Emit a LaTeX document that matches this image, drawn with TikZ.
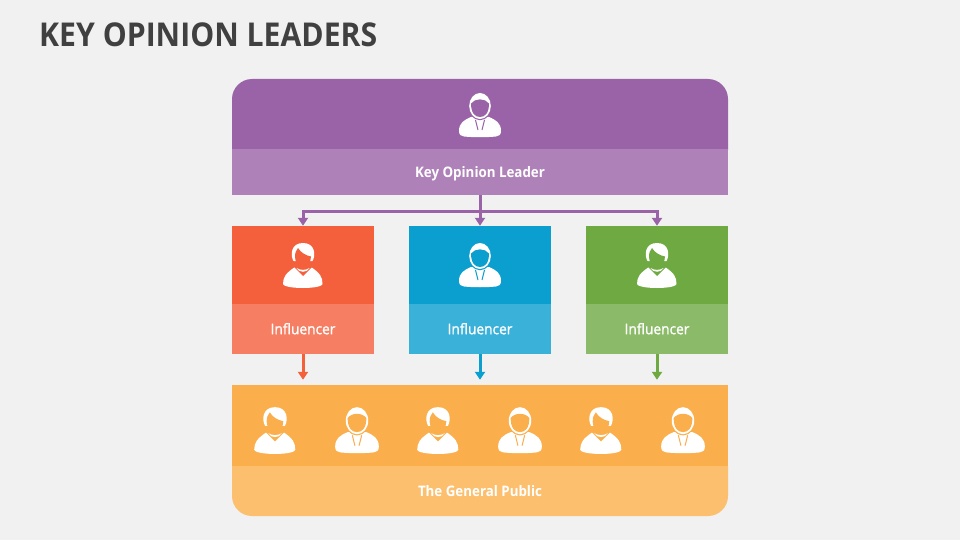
\documentclass[tikz,border=0pt]{standalone}
\usepackage{fontspec}
\setmainfont{Open Sans}
\newfontfamily\headfont[FakeStretch=0.92]{Open Sans}
\newfontfamily\semifont[FakeStretch=0.94,FakeBold=1.2]{Open Sans}
\usetikzlibrary{arrows.meta}
\definecolor{pagegray}{HTML}{F1F1F1}
\definecolor{titlegray}{HTML}{404040}
\definecolor{purpleA}{HTML}{9A63A8}
\definecolor{purpleB}{HTML}{AE82B9}
\definecolor{redA}{HTML}{F5603C}
\definecolor{redB}{HTML}{F67E62}
\definecolor{blueA}{HTML}{0A9FCE}
\definecolor{blueB}{HTML}{3AB1D9}
\definecolor{greenA}{HTML}{6EAA41}
\definecolor{greenB}{HTML}{8BBB68}
\definecolor{orangeA}{HTML}{FBAF4C}
\definecolor{orangeB}{HTML}{FCBF6E}
\tikzset{
  panel/.style={inner sep=0pt,minimum width=#1,text=white,text height=10.4pt,text depth=0pt,font=\headfont\fontsize{14.5}{16}\selectfont\bfseries},
  influencer/.style={font=\semifont\fontsize{14.6}{16}\selectfont},
  arrowline/.style={-{Triangle[length=8pt,width=10pt]},line width=3pt},
  pics/man/.style={code={
    \fill[white] (-21,17) .. controls (-21,9) and (-16,6) .. (-9,3) -- (9,3) .. controls (16,6) and (21,9) .. (21,17)
      .. controls (21,21) and (19,22) .. (16,22.5) .. controls (6,23.5) and (-6,23.5) .. (-16,22.5) .. controls (-19,22) and (-21,21) .. cycle;
    \fill[#1] (0,-8) ellipse (12 and 14.2);
    \fill[white] (0,-8) ellipse (10.8 and 13);
    \fill[#1] (-9,-10.5) .. controls (-5,-16) and (5,-16) .. (9,-10.5) .. controls (9,-1) and (5,3) .. (0,3) .. controls (-5,3) and (-9,-1) .. cycle;
    \draw[#1,line width=1pt] (-4.5,6) -- (-2,16) (4.5,6) -- (2,16);
  }},
  pics/woman/.style={code={
    \fill[white] (-20,20) .. controls (-20,13) and (-17,9) .. (-8,3) -- (8,3) .. controls (17,9) and (19.5,13) .. (19.5,20)
      .. controls (19.5,22) and (12,24) .. (0,24) .. controls (-12,24) and (-20,22) .. cycle;
    \fill[#1] (-9,1) -- (9,1) -- (9,3) -- (0,12) -- (-9,3) -- cycle;
    \fill[white] (-6.5,4) .. controls (-3,6.5) and (3,6.5) .. (6.5,4) .. controls (4,9) and (-4,9) .. cycle;
    \fill[white] (-9.5,-3) .. controls (-13,-9) and (-12,-21) .. (0,-21) .. controls (12,-21) and (13,-9) .. (9.5,-3) -- cycle;
    \fill[#1] (-8,-7) .. controls (-8,-11) and (-7,-14) .. (-5,-16) .. controls (-2,-11) and (3,-8.5) .. (8,-7.5)
      .. controls (8,-1) and (4,3) .. (0,3) .. controls (-4,3) and (-8,-1) .. cycle;
  }}
}
\begin{document}
\begin{tikzpicture}[x=1pt,y=-1pt]
    \useasboundingbox (0,0) rectangle (960,540);
    \fill[pagegray] (0,0) rectangle (960,540);
    \node[anchor=west,inner sep=0pt,text=titlegray,font=\headfont\fontsize{32.8}{38}\selectfont\bfseries] (title) at (39,34.5) {KEY OPINION LEADERS};

    % top block
    \fill[purpleA] (232,150) -- (232,99) .. controls (232,88) and (241,79) .. (252,79) -- (708,79) .. controls (719,79) and (728,88) .. (728,99) -- (728,150) -- cycle;
    \node[panel=496pt,minimum height=46pt,fill=purpleB] (leader) at (480,172) {Key Opinion Leader};
    \pic (leaderman) at (480,114) {man=purpleA};

    % influencers
    \node[panel=142pt,minimum height=78pt,fill=redA] (infa) at (303,265) {};
    \node[panel=142pt,influencer,minimum height=50pt,fill=redB] (labela) at (303,329) {Influencer};
    \node[panel=142pt,minimum height=78pt,fill=blueA] (infb) at (480,265) {};
    \node[panel=142pt,influencer,minimum height=50pt,fill=blueB] (labelb) at (480,329) {Influencer};
    \node[panel=142pt,minimum height=78pt,fill=greenA] (infc) at (657,265) {};
    \node[panel=142pt,influencer,minimum height=50pt,fill=greenB] (labelc) at (657,329) {Influencer};
    \pic (mana) at (303,264) {woman=redA};
    \pic (manb) at (480,264) {man=blueA};
    \pic (manc) at (657,264) {woman=greenA};

    % general public
    \node[panel=496pt,minimum height=81pt,fill=orangeA] (public) at (480,425.5) {};
    \fill[orangeB] (232,466) -- (232,496) .. controls (232,507) and (241,516) .. (252,516) -- (708,516) .. controls (719,516) and (728,507) .. (728,496) -- (728,466) -- cycle;
    \node[panel=300pt,minimum height=20pt] (publiclabel) at (480,491) {The General Public};
    \foreach \x/\who/\n in {275/woman/a,357/man/b,438/woman/c,520/man/d,601/woman/e,683/man/f}
      \pic[scale=1.04] (pub\n) at (\x,429) {\who=orangeA};

    % connectors
    \draw[arrowline,purpleA] (leader.south) -- (infb.north);
    \draw[arrowline,purpleA] (leader.south) -- ++(0,16) -| (infa.north);
    \draw[arrowline,purpleA] (leader.south) -- ++(0,16) -| (infc.north);
    \draw[arrowline,redA,shorten >=5pt] (labela.south) -- (labela.south |- public.north);
    \draw[arrowline,blueA,shorten >=5pt] (labelb.south) -- (labelb.south |- public.north);
    \draw[arrowline,greenA,shorten >=5pt] (labelc.south) -- (labelc.south |- public.north);
\end{tikzpicture}
\end{document}
